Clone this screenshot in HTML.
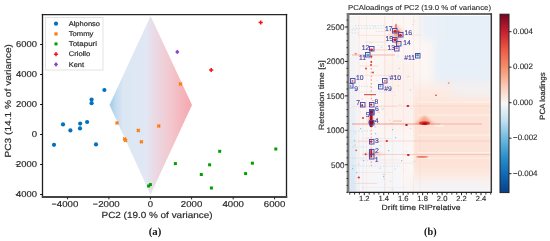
<!DOCTYPE html>
<html><head><meta charset="utf-8"><style>
html,body{margin:0;padding:0;background:#fff;}
svg{display:block;font-family:"Liberation Sans",Arial,sans-serif;text-rendering:geometricPrecision;}
</style></head><body>
<svg width="550" height="241" viewBox="0 0 550 241">
<rect width="550" height="241" fill="#fff"/>
<defs>
<linearGradient id="dg" gradientUnits="userSpaceOnUse" x1="109.5" y1="0" x2="192" y2="0">
<stop offset="0" stop-color="#9fcbea"/>
<stop offset="0.08" stop-color="#c4dcf0"/>
<stop offset="0.17" stop-color="#dce7f4"/>
<stop offset="0.45" stop-color="#e1e7f4"/>
<stop offset="0.52" stop-color="#e9dde8"/>
<stop offset="0.75" stop-color="#f3c6cd"/>
<stop offset="1" stop-color="#f6a6ad"/>
</linearGradient>
<linearGradient id="cb" x1="0" y1="1" x2="0" y2="0">
<stop offset="0" stop-color="#083f8a"/>
<stop offset="0.1" stop-color="#0f68b4"/>
<stop offset="0.2" stop-color="#2a90cc"/>
<stop offset="0.3" stop-color="#6db8e0"/>
<stop offset="0.4" stop-color="#bfe0f0"/>
<stop offset="0.5" stop-color="#f8f8f8"/>
<stop offset="0.6" stop-color="#fcc8b2"/>
<stop offset="0.7" stop-color="#f6906c"/>
<stop offset="0.8" stop-color="#ee5a44"/>
<stop offset="0.9" stop-color="#c82030"/>
<stop offset="1" stop-color="#780520"/>
</linearGradient>
</defs>
<polygon points="150.6,16 192,105 150.6,194.4 109.5,105" fill="url(#dg)"/>
<circle cx="104.4" cy="90" r="2.1" fill="#0072bd"/>
<circle cx="91.6" cy="99.6" r="2.1" fill="#0072bd"/>
<circle cx="91.6" cy="103.2" r="2.1" fill="#0072bd"/>
<circle cx="63" cy="124.4" r="2.1" fill="#0072bd"/>
<circle cx="70.4" cy="130.4" r="2.1" fill="#0072bd"/>
<circle cx="80.2" cy="123.6" r="2.1" fill="#0072bd"/>
<circle cx="80" cy="128.4" r="2.1" fill="#0072bd"/>
<circle cx="87.1" cy="122" r="2.1" fill="#0072bd"/>
<circle cx="54" cy="144.8" r="2.1" fill="#0072bd"/>
<circle cx="96" cy="144.4" r="2.1" fill="#0072bd"/>
<polygon points="115.00,122.10 116.10,121.00 117.00,121.90 117.90,121.00 119.00,122.10 118.10,123.00 119.00,123.90 117.90,125.00 117.00,124.10 116.10,125.00 115.00,123.90 115.90,123.00" fill="#fb7d10"/>
<polygon points="136.30,129.50 137.40,128.40 138.30,129.30 139.20,128.40 140.30,129.50 139.40,130.40 140.30,131.30 139.20,132.40 138.30,131.50 137.40,132.40 136.30,131.30 137.20,130.40" fill="#fb7d10"/>
<polygon points="156.80,125.10 157.90,124.00 158.80,124.90 159.70,124.00 160.80,125.10 159.90,126.00 160.80,126.90 159.70,128.00 158.80,127.10 157.90,128.00 156.80,126.90 157.70,126.00" fill="#fb7d10"/>
<polygon points="122.60,138.10 123.70,137.00 124.60,137.90 125.50,137.00 126.60,138.10 125.70,139.00 126.60,139.90 125.50,141.00 124.60,140.10 123.70,141.00 122.60,139.90 123.50,139.00" fill="#fb7d10"/>
<polygon points="123.60,139.50 124.70,138.40 125.60,139.30 126.50,138.40 127.60,139.50 126.70,140.40 127.60,141.30 126.50,142.40 125.60,141.50 124.70,142.40 123.60,141.30 124.50,140.40" fill="#fb7d10"/>
<polygon points="139.40,140.90 140.50,139.80 141.40,140.70 142.30,139.80 143.40,140.90 142.50,141.80 143.40,142.70 142.30,143.80 141.40,142.90 140.50,143.80 139.40,142.70 140.30,141.80" fill="#fb7d10"/>
<polygon points="178.50,83.10 179.60,82.00 180.50,82.90 181.40,82.00 182.50,83.10 181.60,84.00 182.50,84.90 181.40,86.00 180.50,85.10 179.60,86.00 178.50,84.90 179.40,84.00" fill="#fb7d10"/>
<rect x="173.9" y="162.1" width="3" height="3" fill="#00a000"/>
<rect x="199.8" y="173.0" width="3" height="3" fill="#00a000"/>
<rect x="208.1" y="163.3" width="3" height="3" fill="#00a000"/>
<rect x="147.1" y="184.5" width="3" height="3" fill="#00a000"/>
<rect x="148.9" y="183.1" width="3" height="3" fill="#00a000"/>
<rect x="218.2" y="149.8" width="3" height="3" fill="#00a000"/>
<rect x="274.3" y="147.5" width="3" height="3" fill="#00a000"/>
<rect x="209.9" y="186.5" width="3" height="3" fill="#00a000"/>
<rect x="250.9" y="161.7" width="3" height="3" fill="#00a000"/>
<rect x="244.1" y="172.1" width="3" height="3" fill="#00a000"/>
<polygon points="259.95,20.40 261.45,20.40 261.45,21.75 262.80,21.75 262.80,23.25 261.45,23.25 261.45,24.60 259.95,24.60 259.95,23.25 258.60,23.25 258.60,21.75 259.95,21.75" fill="#f51414"/>
<polygon points="210.45,67.90 211.95,67.90 211.95,69.25 213.30,69.25 213.30,70.75 211.95,70.75 211.95,72.10 210.45,72.10 210.45,70.75 209.10,70.75 209.10,69.25 210.45,69.25" fill="#f51414"/>
<path d="M177.3,49.6L179.4,51.9L177.3,54.199999999999996L175.20000000000002,51.9Z" fill="#8e44c4"/>
<rect x="45.5" y="17.5" width="57.5" height="52.5" fill="#fff" fill-opacity="0.85" stroke="#dcdcdc" stroke-width="0.8"/>
<circle cx="56" cy="23.7" r="2.1" fill="#0072bd"/>
<polygon points="54.00,33.00 55.10,31.90 56.00,32.80 56.90,31.90 58.00,33.00 57.10,33.90 58.00,34.80 56.90,35.90 56.00,35.00 55.10,35.90 54.00,34.80 54.90,33.90" fill="#fb7d10"/>
<rect x="54.5" y="42.4" width="3" height="3" fill="#00a000"/>
<polygon points="55.25,52.10 56.75,52.10 56.75,53.45 58.10,53.45 58.10,54.95 56.75,54.95 56.75,56.30 55.25,56.30 55.25,54.95 53.90,54.95 53.90,53.45 55.25,53.45" fill="#f51414"/>
<path d="M56,62.10000000000001L58.1,64.4L56,66.7L53.9,64.4Z" fill="#8e44c4"/>
<text x="68.7" y="25.8" font-size="6.8" fill="#2a2a2a" text-anchor="start" stroke="#2a2a2a" stroke-width="0.18" textLength="31.3" lengthAdjust="spacingAndGlyphs" >Alphonso</text>
<text x="68.7" y="36.2" font-size="6.8" fill="#2a2a2a" text-anchor="start" stroke="#2a2a2a" stroke-width="0.18" textLength="24.7" lengthAdjust="spacingAndGlyphs" >Tommy</text>
<text x="68.7" y="46.0" font-size="6.8" fill="#2a2a2a" text-anchor="start" stroke="#2a2a2a" stroke-width="0.18" textLength="28.3" lengthAdjust="spacingAndGlyphs" >Totapuri</text>
<text x="68.7" y="56.300000000000004" font-size="6.8" fill="#2a2a2a" text-anchor="start" stroke="#2a2a2a" stroke-width="0.18" textLength="21.6" lengthAdjust="spacingAndGlyphs" >Criollo</text>
<text x="68.7" y="66.5" font-size="6.8" fill="#2a2a2a" text-anchor="start" stroke="#2a2a2a" stroke-width="0.18" textLength="15.4" lengthAdjust="spacingAndGlyphs" >Kent</text>
<line x1="41.8" y1="14.6" x2="287.2" y2="14.6" stroke="#262626" stroke-width="1.4"/>
<line x1="42.5" y1="13.9" x2="42.5" y2="197.8" stroke="#1e1e1e" stroke-width="1.3"/>
<line x1="286.5" y1="13.9" x2="286.5" y2="197.8" stroke="#1e1e1e" stroke-width="1.3"/>
<line x1="41.8" y1="197" x2="287.2" y2="197" stroke="#444" stroke-width="1.9"/>
<line x1="40.1" y1="44.5" x2="42.5" y2="44.5" stroke="#111" stroke-width="1"/>
<text x="37.1" y="46.5" font-size="8.6" fill="#2a2a2a" text-anchor="end" stroke="#2a2a2a" stroke-width="0.18" textLength="21" lengthAdjust="spacingAndGlyphs" >6000</text>
<line x1="40.1" y1="74.5" x2="42.5" y2="74.5" stroke="#111" stroke-width="1"/>
<text x="37.1" y="76.5" font-size="8.6" fill="#2a2a2a" text-anchor="end" stroke="#2a2a2a" stroke-width="0.18" textLength="21" lengthAdjust="spacingAndGlyphs" >4000</text>
<line x1="40.1" y1="104.5" x2="42.5" y2="104.5" stroke="#111" stroke-width="1"/>
<text x="37.1" y="106.5" font-size="8.6" fill="#2a2a2a" text-anchor="end" stroke="#2a2a2a" stroke-width="0.18" textLength="21" lengthAdjust="spacingAndGlyphs" >2000</text>
<line x1="40.1" y1="134.5" x2="42.5" y2="134.5" stroke="#111" stroke-width="1"/>
<text x="37.1" y="136.5" font-size="8.6" fill="#2a2a2a" text-anchor="end" stroke="#2a2a2a" stroke-width="0.18" textLength="5.3" lengthAdjust="spacingAndGlyphs" >0</text>
<line x1="40.1" y1="164.5" x2="42.5" y2="164.5" stroke="#111" stroke-width="1"/>
<text x="37.1" y="166.5" font-size="8.6" fill="#2a2a2a" text-anchor="end" stroke="#2a2a2a" stroke-width="0.18" textLength="21" lengthAdjust="spacingAndGlyphs" >2000</text>
<rect x="15.6" y="164.0" width="2.4" height="0.9" fill="#444"/>
<line x1="40.1" y1="194.5" x2="42.5" y2="194.5" stroke="#111" stroke-width="1"/>
<text x="37.1" y="196.5" font-size="8.6" fill="#2a2a2a" text-anchor="end" stroke="#2a2a2a" stroke-width="0.18" textLength="21" lengthAdjust="spacingAndGlyphs" >4000</text>
<rect x="15.6" y="194.0" width="2.4" height="0.9" fill="#444"/>
<line x1="67.6" y1="197" x2="67.6" y2="199.4" stroke="#222" stroke-width="1"/>
<text x="51.39999999999999" y="207.0" font-size="8.6" fill="#2a2a2a" text-anchor="start" stroke="#2a2a2a" stroke-width="0.18" textLength="5.2" lengthAdjust="spacingAndGlyphs" >−</text>
<text x="67.6" y="207.0" font-size="8.6" fill="#2a2a2a" text-anchor="middle" stroke="#2a2a2a" stroke-width="0.18" textLength="21.5" lengthAdjust="spacingAndGlyphs" >4000</text>
<line x1="108.9" y1="197" x2="108.9" y2="199.4" stroke="#222" stroke-width="1"/>
<text x="92.7" y="207.0" font-size="8.6" fill="#2a2a2a" text-anchor="start" stroke="#2a2a2a" stroke-width="0.18" textLength="5.2" lengthAdjust="spacingAndGlyphs" >−</text>
<text x="108.9" y="207.0" font-size="8.6" fill="#2a2a2a" text-anchor="middle" stroke="#2a2a2a" stroke-width="0.18" textLength="21.5" lengthAdjust="spacingAndGlyphs" >2000</text>
<line x1="150.4" y1="197" x2="150.4" y2="199.4" stroke="#222" stroke-width="1"/>
<text x="150.4" y="207.0" font-size="8.6" fill="#2a2a2a" text-anchor="middle" stroke="#2a2a2a" stroke-width="0.18" textLength="5.3" lengthAdjust="spacingAndGlyphs" >0</text>
<line x1="191.6" y1="197" x2="191.6" y2="199.4" stroke="#222" stroke-width="1"/>
<text x="191.6" y="207.0" font-size="8.6" fill="#2a2a2a" text-anchor="middle" stroke="#2a2a2a" stroke-width="0.18" textLength="21.5" lengthAdjust="spacingAndGlyphs" >2000</text>
<line x1="233.2" y1="197" x2="233.2" y2="199.4" stroke="#222" stroke-width="1"/>
<text x="233.2" y="207.0" font-size="8.6" fill="#2a2a2a" text-anchor="middle" stroke="#2a2a2a" stroke-width="0.18" textLength="21.5" lengthAdjust="spacingAndGlyphs" >4000</text>
<line x1="274.6" y1="197" x2="274.6" y2="199.4" stroke="#222" stroke-width="1"/>
<text x="274.6" y="207.0" font-size="8.6" fill="#2a2a2a" text-anchor="middle" stroke="#2a2a2a" stroke-width="0.18" textLength="21.5" lengthAdjust="spacingAndGlyphs" >6000</text>
<text x="101.5" y="218" font-size="8.8" fill="#2a2a2a" text-anchor="start" stroke="#2a2a2a" stroke-width="0.18" textLength="111" lengthAdjust="spacingAndGlyphs" >PC2 (19.0 % of variance)</text>
<text x="0" y="0" font-size="8.8" fill="#2a2a2a" text-anchor="start" stroke="#2a2a2a" stroke-width="0.18" textLength="113.6" lengthAdjust="spacingAndGlyphs" transform="translate(11.4,157.6) rotate(-90)">PC3 (14.1 % of variance)</text>
<text x="155" y="234.5" font-size="10.8" fill="#111" text-anchor="middle" textLength="12.5" lengthAdjust="spacingAndGlyphs" font-family="Liberation Serif" font-weight="bold">(a)</text>
<clipPath id="hc"><rect x="348.5" y="14" width="143" height="178.3"/></clipPath>
<filter id="b4" x="-50%" y="-50%" width="200%" height="200%"><feGaussianBlur stdDeviation="4"/></filter>
<filter id="b2" x="-50%" y="-50%" width="200%" height="200%"><feGaussianBlur stdDeviation="1.5"/></filter>
<filter id="b1" x="-50%" y="-50%" width="200%" height="200%"><feGaussianBlur stdDeviation="0.6"/></filter>
<g clip-path="url(#hc)">
<rect x="348.5" y="14" width="143.0" height="178.3" fill="#fcf6f4"/>
<filter id="bv" x="-50%" y="-50%" width="200%" height="200%"><feGaussianBlur stdDeviation="0.7 5"/></filter>
<g filter="url(#b4)">
<rect x="434" y="0" width="70" height="88" fill="#e7f0f8"/>
<rect x="420" y="0" width="20" height="40" fill="#ebf1f8"/>
<rect x="384" y="60" width="30" height="70" fill="#fcf1ec"/>
<rect x="357" y="135" width="45" height="70" fill="#f6f6f9"/>
</g>
<g filter="url(#bv)">
<rect x="414.5" y="84" width="90" height="104" fill="#fdebe3"/>
<rect x="414.5" y="100" width="90" height="72" fill="#fde3d7"/>
</g>
<rect x="410" y="180" width="90" height="20" fill="#f5f3f5" filter="url(#b4)"/>
<rect x="452" y="82" width="50" height="14" fill="#eef1f6" opacity="0.8" filter="url(#b4)"/>
<linearGradient id="bs" x1="0" y1="0" x2="0" y2="1">
<stop offset="0" stop-color="#f8f4f4"/><stop offset="0.4" stop-color="#f1f2f6"/><stop offset="0.65" stop-color="#e5eef6"/>
<stop offset="1" stop-color="#d8e7f3"/></linearGradient>
<rect x="348.5" y="14" width="8" height="179" fill="url(#bs)" filter="url(#b2)"/>
<rect x="358.5" y="14" width="1" height="178" fill="#f4cfc4" opacity="0.35"/>
<rect x="362.5" y="120" width="1" height="72" fill="#d8e8f4" opacity="0.6"/>
<rect x="366" y="14" width="1" height="178" fill="#f6d6cc" opacity="0.3"/>
<rect x="384.3" y="14" width="1" height="178" fill="#f6c8b8" opacity="0.45"/>
<rect x="392" y="14" width="1" height="178" fill="#f8d8cc" opacity="0.3"/>
<rect x="403" y="14" width="1" height="178" fill="#f8dcd0" opacity="0.3"/>
<rect x="413" y="14" width="1" height="178" fill="#f5d5c8" opacity="0.3"/>
<rect x="419.5" y="14" width="1" height="178" fill="#f6d2c4" opacity="0.25"/>
<rect x="418" y="101.5" width="74" height="1" fill="#fff" opacity="0.5"/>
<rect x="418" y="114.5" width="74" height="1" fill="#fff" opacity="0.5"/>
<rect x="418" y="152.1" width="74" height="1" fill="#fff" opacity="0.5"/>
<rect x="418" y="157.7" width="74" height="1" fill="#fff" opacity="0.5"/>
<rect x="418" y="134.5" width="74" height="1" fill="#fff" opacity="0.5"/>
<line x1="371.3" y1="57" x2="371.3" y2="100" stroke="#ee7060" stroke-width="1.2" stroke-dasharray="1.5 2.2" opacity="0.7"/>
<line x1="371.3" y1="126" x2="371.3" y2="168" stroke="#f08070" stroke-width="1.1" stroke-dasharray="2 1.5" opacity="0.55"/>
<ellipse cx="374" cy="154" rx="14" ry="4" fill="url(#gl)" opacity="0.5"/>
<circle cx="371" cy="65" r="0.9" fill="#e03030"/>
<circle cx="366" cy="68.5" r="0.9" fill="#e03030"/>
<circle cx="373" cy="72.5" r="0.9" fill="#e03030"/>
<circle cx="371.3" cy="62" r="0.9" fill="#e03030"/>
<rect x="370.7" y="42.2" width="1" height="1" fill="#9ccfea" opacity="0.73"/>
<rect x="373.4" y="26.1" width="2" height="1" fill="#9ccfea" opacity="0.43"/>
<rect x="390.2" y="180.9" width="1" height="1" fill="#f4a494" opacity="0.63"/>
<rect x="412.5" y="24.1" width="1" height="1" fill="#8cc6e6" opacity="0.57"/>
<rect x="386.5" y="113.5" width="1" height="1" fill="#b5dbef" opacity="0.44"/>
<rect x="373.8" y="111.3" width="1" height="1" fill="#9ccfea" opacity="0.63"/>
<rect x="381.8" y="108.5" width="2" height="1" fill="#8cc6e6" opacity="0.59"/>
<rect x="389.0" y="28.7" width="1" height="1" fill="#b5dbef" opacity="0.70"/>
<rect x="409.7" y="89.4" width="1.5" height="1" fill="#9ccfea" opacity="0.71"/>
<rect x="367.3" y="137.3" width="1.5" height="1" fill="#9ccfea" opacity="0.42"/>
<rect x="391.4" y="188.8" width="2" height="1" fill="#f6b4a4" opacity="0.51"/>
<rect x="406.8" y="76.4" width="1" height="1" fill="#8cc6e6" opacity="0.47"/>
<rect x="397.3" y="85.2" width="2" height="1" fill="#f6b4a4" opacity="0.43"/>
<rect x="377.6" y="111.7" width="2" height="1" fill="#f6b4a4" opacity="0.79"/>
<rect x="376.8" y="80.3" width="1" height="1" fill="#b5dbef" opacity="0.68"/>
<rect x="379.2" y="167.6" width="2" height="1" fill="#f4a494" opacity="0.56"/>
<rect x="362.2" y="187.3" width="1.5" height="1" fill="#f6b4a4" opacity="0.46"/>
<rect x="388.4" y="33.8" width="1.5" height="1" fill="#f4a494" opacity="0.44"/>
<rect x="374.1" y="126.4" width="2" height="1" fill="#8cc6e6" opacity="0.64"/>
<rect x="357.9" y="163.7" width="1.5" height="1" fill="#f6b4a4" opacity="0.59"/>
<rect x="366.9" y="160.2" width="1" height="1" fill="#b5dbef" opacity="0.61"/>
<rect x="410.9" y="107.9" width="1" height="1" fill="#b5dbef" opacity="0.68"/>
<rect x="398.5" y="67.9" width="1.5" height="1" fill="#9ccfea" opacity="0.68"/>
<rect x="383.2" y="174.0" width="1.5" height="1" fill="#8cc6e6" opacity="0.71"/>
<rect x="390.7" y="122.7" width="2" height="1" fill="#b5dbef" opacity="0.72"/>
<rect x="397.4" y="55.5" width="1" height="1" fill="#8cc6e6" opacity="0.69"/>
<rect x="388.7" y="75.9" width="1.5" height="1" fill="#8cc6e6" opacity="0.78"/>
<rect x="371.6" y="100.0" width="2" height="1" fill="#f4a494" opacity="0.74"/>
<rect x="408.2" y="75.9" width="1" height="1" fill="#9ccfea" opacity="0.76"/>
<rect x="380.6" y="47.1" width="2" height="1" fill="#8cc6e6" opacity="0.43"/>
<rect x="379.6" y="145.3" width="1" height="1" fill="#9ccfea" opacity="0.69"/>
<rect x="413.6" y="20.8" width="1" height="1" fill="#f6b4a4" opacity="0.72"/>
<rect x="389.1" y="119.7" width="1.5" height="1" fill="#f6b4a4" opacity="0.66"/>
<rect x="360.0" y="111.4" width="1" height="1" fill="#9ccfea" opacity="0.41"/>
<rect x="383.7" y="178.5" width="1" height="1" fill="#f6b4a4" opacity="0.79"/>
<rect x="368.7" y="57.9" width="1" height="1" fill="#8cc6e6" opacity="0.62"/>
<rect x="353.9" y="144.7" width="2" height="1" fill="#f6b4a4" opacity="0.66"/>
<rect x="402.9" y="168.8" width="1" height="1" fill="#b5dbef" opacity="0.61"/>
<rect x="405.9" y="151.1" width="1" height="1" fill="#f4a494" opacity="0.40"/>
<rect x="361.0" y="98.4" width="2" height="1" fill="#f4a494" opacity="0.42"/>
<rect x="400.2" y="34.5" width="1" height="1" fill="#b5dbef" opacity="0.48"/>
<rect x="399.4" y="104.3" width="1" height="1" fill="#f4a494" opacity="0.41"/>
<rect x="378.4" y="122.6" width="1" height="1" fill="#f4a494" opacity="0.64"/>
<rect x="394.3" y="94.7" width="1" height="1" fill="#f6b4a4" opacity="0.60"/>
<rect x="394.7" y="168.5" width="1" height="1" fill="#8cc6e6" opacity="0.77"/>
<rect x="354.7" y="132.5" width="1" height="1" fill="#9ccfea" opacity="0.76"/>
<rect x="410.1" y="128.0" width="1" height="1" fill="#8cc6e6" opacity="0.46"/>
<rect x="411.9" y="54.2" width="1" height="1" fill="#f6b4a4" opacity="0.75"/>
<rect x="413.4" y="160.8" width="2" height="1" fill="#b5dbef" opacity="0.68"/>
<rect x="350.6" y="141.3" width="31.6" height="0.8" fill="#f8d0c4" opacity="0.45"/>
<rect x="361.5" y="138.1" width="30.5" height="0.8" fill="#f8d0c4" opacity="0.45"/>
<rect x="351.9" y="106.1" width="44.6" height="0.8" fill="#f6c4b6" opacity="0.45"/>
<rect x="353.1" y="183.2" width="23.0" height="0.8" fill="#f6c4b6" opacity="0.45"/>
<rect x="355.4" y="172.2" width="37.7" height="0.8" fill="#f8d0c4" opacity="0.45"/>
<rect x="370.3" y="162.7" width="43.4" height="0.8" fill="#f8d0c4" opacity="0.45"/>
<rect x="377.6" y="45.1" width="32.1" height="0.8" fill="#d4e8f4" opacity="0.45"/>
<rect x="358.4" y="74.9" width="39.0" height="0.8" fill="#f6c4b6" opacity="0.45"/>
<rect x="352.2" y="91.5" width="43.2" height="0.8" fill="#d4e8f4" opacity="0.45"/>
<rect x="357.8" y="34.9" width="33.2" height="0.8" fill="#f6c4b6" opacity="0.45"/>
<rect x="375.9" y="31.2" width="28.6" height="0.8" fill="#f8d0c4" opacity="0.45"/>
<rect x="362.5" y="187.0" width="42.5" height="0.8" fill="#d4e8f4" opacity="0.45"/>
<rect x="365.8" y="41.7" width="22.2" height="0.8" fill="#f6c4b6" opacity="0.45"/>
<rect x="357.9" y="182.8" width="20.4" height="0.8" fill="#f8d0c4" opacity="0.45"/>
<rect x="352" y="123.55" width="88" height="0.9" fill="#e86a5a" opacity="0.7"/>
<rect x="440" y="123.55" width="42" height="0.9" fill="#f09080" opacity="0.6"/>
<rect x="374" y="105.5" width="117" height="1" fill="#f5b4a4" opacity="0.3"/>
<rect x="358" y="140.5" width="133" height="1" fill="#f4a898" opacity="0.35"/>
<rect x="362" y="154.0" width="129" height="1" fill="#f3a494" opacity="0.45"/>
<rect x="352" y="54.45" width="43" height="1.1" fill="#f3a090" opacity="0.7"/>
<rect x="374" y="49.4" width="18" height="1" fill="#f5b0a0" opacity="0.5"/>
<rect x="393" y="120.6" width="9" height="1" fill="#f5b090" opacity="0.8"/>
<rect x="364" y="94.0" width="12" height="1.2" fill="#d84848" opacity="0.9"/>
<rect x="360" y="65.5" width="18" height="1" fill="#f6c0b0" opacity="0.4"/>
<rect x="360" y="159.5" width="40" height="1" fill="#f6c8bc" opacity="0.35"/>
<rect x="404" y="34.5" width="16" height="1" fill="#f8c8b8" opacity="0.4"/>
<radialGradient id="gl"><stop offset="0" stop-color="#f07850" stop-opacity="0.85"/><stop offset="0.6" stop-color="#f8a888" stop-opacity="0.35"/><stop offset="1" stop-color="#fbc8b0" stop-opacity="0"/></radialGradient>
<ellipse cx="397" cy="34" rx="8" ry="10" fill="url(#gl)"/>
<ellipse cx="396" cy="26.5" rx="1.2" ry="3" fill="#f06048" opacity="0.7" filter="url(#b1)"/>
<ellipse cx="397.5" cy="43.5" rx="2.5" ry="1.2" fill="#f7a070" opacity="0.6" filter="url(#b1)"/>
<polygon points="414,125 424.5,115.5 435,125" fill="#f59070" opacity="0.75" filter="url(#b2)"/>
<ellipse cx="424.5" cy="123.2" rx="5.5" ry="2" fill="#e03030" filter="url(#b1)"/>
<rect x="414" y="125.2" width="30" height="1.2" fill="#fff" opacity="0.6"/>
<ellipse cx="371" cy="120" rx="5" ry="7" fill="url(#gl)"/>
<ellipse cx="371" cy="154" rx="4" ry="6" fill="url(#gl)" opacity="0.7"/>
<g filter="url(#b1)">
<rect x="369.8" y="112" width="2.8" height="15" fill="#b01020"/>
<rect x="370.3" y="149.5" width="1.8" height="8" fill="#c01820"/>
<ellipse cx="395" cy="31.3" rx="1.6" ry="1.4" fill="#e01818"/>
<ellipse cx="400.4" cy="35.3" rx="1.5" ry="1.4" fill="#e01818"/>
<ellipse cx="398.5" cy="31.6" rx="1.0" ry="1.0" fill="#e83020"/>
<ellipse cx="395" cy="39.7" rx="1.8" ry="1.2" fill="#d81818"/>
<ellipse cx="396.6" cy="48.3" rx="1.2" ry="1.0" fill="#f05030"/>
<ellipse cx="371.5" cy="49.8" rx="1.5" ry="1.4" fill="#d81c1c"/>
<ellipse cx="371.4" cy="56.4" rx="1.0" ry="1.0" fill="#e03030"/>
<ellipse cx="355.8" cy="53.8" rx="1.2" ry="0.8" fill="#f07060"/>
<ellipse cx="352.5" cy="80.9" rx="0.9" ry="0.9" fill="#e85040"/>
<ellipse cx="384.9" cy="80.8" rx="1.0" ry="0.9" fill="#f06050"/>
<ellipse cx="362.2" cy="105.3" rx="0.8" ry="1.4" fill="#c01818"/>
<ellipse cx="371.2" cy="104.7" rx="1.1" ry="1.1" fill="#c81818"/>
<ellipse cx="371.2" cy="111.8" rx="2.0" ry="2.0" fill="#a81020"/>
<ellipse cx="371.2" cy="122.5" rx="2.6" ry="2.4" fill="#900818"/>
<ellipse cx="371.2" cy="141.6" rx="1.2" ry="1.2" fill="#d81818"/>
<ellipse cx="386.8" cy="141.1" rx="1.1" ry="1.0" fill="#e02020"/>
<ellipse cx="365.6" cy="154.2" rx="1.0" ry="1.0" fill="#e03030"/>
<ellipse cx="356.2" cy="150.4" rx="1.0" ry="0.8" fill="#f06050"/>
<ellipse cx="407.9" cy="105.9" rx="1.4" ry="1.0" fill="#c01a28"/>
<ellipse cx="424.8" cy="123.6" rx="2.6" ry="1.1" fill="#a8081a"/>
<ellipse cx="406.5" cy="125" rx="1.3" ry="0.9" fill="#b01020"/>
<ellipse cx="408.3" cy="155" rx="1.4" ry="1.0" fill="#c41c2a"/>
<ellipse cx="422.2" cy="156.9" rx="6.0" ry="0.8" fill="#f07060"/>
<ellipse cx="417.6" cy="55.3" rx="1.3" ry="1.2" fill="#2a9ab8"/>
<ellipse cx="367.8" cy="55" rx="1.5" ry="1.2" fill="#30b0d8"/>
<ellipse cx="350.5" cy="86" rx="1.1" ry="1.0" fill="#40b0d8"/>
<ellipse cx="380.4" cy="86.3" rx="1.0" ry="1.0" fill="#40b0d8"/>
<ellipse cx="358.8" cy="177.5" rx="1.2" ry="1.0" fill="#e03030"/>
<ellipse cx="436" cy="95.2" rx="1.0" ry="0.8" fill="#e85030"/>
<ellipse cx="448.7" cy="83" rx="0.9" ry="0.7" fill="#f08060"/>
<ellipse cx="363" cy="118" rx="1.0" ry="0.9" fill="#e03030"/>
</g>
<line x1="355" y1="25.7" x2="385" y2="25.7" stroke="#9fd3ec" stroke-width="0.8" stroke-dasharray="1.2 1.6" opacity="0.75"/>
<line x1="353" y1="28.3" x2="384" y2="28.3" stroke="#9fd3ec" stroke-width="0.8" stroke-dasharray="1.2 1.6" opacity="0.75"/>
<line x1="353" y1="86.3" x2="372" y2="86.3" stroke="#9fd3ec" stroke-width="0.8" stroke-dasharray="1.2 1.6" opacity="0.75"/>
<line x1="352" y1="166" x2="400" y2="166" stroke="#9fd3ec" stroke-width="0.8" stroke-dasharray="1.2 1.6" opacity="0.75"/>
<line x1="349" y1="158" x2="380" y2="158" stroke="#9fd3ec" stroke-width="0.8" stroke-dasharray="1.2 1.6" opacity="0.75"/>
<line x1="349" y1="29.8" x2="358" y2="29.8" stroke="#9fd3ec" stroke-width="0.8" stroke-dasharray="1.2 1.6" opacity="0.75"/>
<line x1="349" y1="33" x2="360" y2="33" stroke="#9fd3ec" stroke-width="0.8" stroke-dasharray="1.2 1.6" opacity="0.75"/>
<line x1="350" y1="131" x2="372" y2="131" stroke="#9fd3ec" stroke-width="0.8" stroke-dasharray="1.2 1.6" opacity="0.75"/>
<line x1="352" y1="147" x2="368" y2="147" stroke="#9fd3ec" stroke-width="0.8" stroke-dasharray="1.2 1.6" opacity="0.75"/>
<rect x="352" y="168" width="1.2" height="1.2" fill="#6cbde4" opacity="0.8"/>
<rect x="356" y="172" width="1.2" height="1.2" fill="#6cbde4" opacity="0.8"/>
<rect x="363" y="160" width="1.2" height="1.2" fill="#6cbde4" opacity="0.8"/>
<rect x="375" y="133" width="1.2" height="1.2" fill="#6cbde4" opacity="0.8"/>
<rect x="388" y="150" width="1.2" height="1.2" fill="#6cbde4" opacity="0.8"/>
<rect x="395" y="137" width="1.2" height="1.2" fill="#6cbde4" opacity="0.8"/>
<rect x="401" y="160" width="1.2" height="1.2" fill="#6cbde4" opacity="0.8"/>
<rect x="383" y="176" width="1.2" height="1.2" fill="#6cbde4" opacity="0.8"/>
<rect x="392" y="129" width="1.2" height="1.2" fill="#6cbde4" opacity="0.8"/>
<rect x="360" y="128" width="1.2" height="1.2" fill="#6cbde4" opacity="0.8"/>
<rect x="354" y="140" width="1.2" height="1.2" fill="#6cbde4" opacity="0.8"/>
</g>
<rect x="392.5" y="28.5" width="4.5" height="4.5" fill="none" stroke="#4a4ab0" stroke-width="0.95"/>
<rect x="398.5" y="32.5" width="4.5" height="4.5" fill="none" stroke="#4a4ab0" stroke-width="0.95"/>
<rect x="392.5" y="37.5" width="4.5" height="4.5" fill="none" stroke="#4a4ab0" stroke-width="0.95"/>
<rect x="396.5" y="41.5" width="4.5" height="4.5" fill="none" stroke="#4a4ab0" stroke-width="0.95"/>
<rect x="394.5" y="46.5" width="4.5" height="4.5" fill="none" stroke="#4a4ab0" stroke-width="0.95"/>
<rect x="369.5" y="46.5" width="4.5" height="4.5" fill="none" stroke="#4a4ab0" stroke-width="0.95"/>
<rect x="365.5" y="52.5" width="4.5" height="4.5" fill="none" stroke="#4a4ab0" stroke-width="0.95"/>
<rect x="415.5" y="53.5" width="4.5" height="4.5" fill="none" stroke="#4a4ab0" stroke-width="0.95"/>
<rect x="350.5" y="78.5" width="4.5" height="4.5" fill="none" stroke="#4a4ab0" stroke-width="0.95"/>
<rect x="348.5" y="83.5" width="4.5" height="4.5" fill="none" stroke="#4a4ab0" stroke-width="0.95"/>
<rect x="382.5" y="78.5" width="4.5" height="4.5" fill="none" stroke="#4a4ab0" stroke-width="0.95"/>
<rect x="378.5" y="84.5" width="4.5" height="4.5" fill="none" stroke="#4a4ab0" stroke-width="0.95"/>
<rect x="360.5" y="102.5" width="4.5" height="4.5" fill="none" stroke="#4a4ab0" stroke-width="0.95"/>
<rect x="369.5" y="102.5" width="4.5" height="4.5" fill="none" stroke="#4a4ab0" stroke-width="0.95"/>
<rect x="369.5" y="109.5" width="4.5" height="4.5" fill="none" stroke="#4a4ab0" stroke-width="0.95"/>
<rect x="369.5" y="110.5" width="4.5" height="4.5" fill="none" stroke="#4a4ab0" stroke-width="0.95"/>
<rect x="369.5" y="120.5" width="4.5" height="4.5" fill="none" stroke="#4a4ab0" stroke-width="0.95"/>
<rect x="369.5" y="139.5" width="4.5" height="4.5" fill="none" stroke="#4a4ab0" stroke-width="0.95"/>
<rect x="369.5" y="149.5" width="4.5" height="4.5" fill="none" stroke="#4a4ab0" stroke-width="0.95"/>
<rect x="369.5" y="154.5" width="4.5" height="4.5" fill="none" stroke="#4a4ab0" stroke-width="0.95"/>
<text x="384.98" y="30.8" font-size="6.8" fill="#3a3aa0" stroke="#3a3aa0" stroke-width="0.12">17</text>
<text x="404.38" y="34.900000000000006" font-size="6.8" fill="#3a3aa0" stroke="#3a3aa0" stroke-width="0.12">16</text>
<text x="385.58" y="41.1" font-size="6.8" fill="#3a3aa0" stroke="#3a3aa0" stroke-width="0.12">15</text>
<text x="403.18" y="45.0" font-size="6.8" fill="#3a3aa0" stroke="#3a3aa0" stroke-width="0.12">14</text>
<text x="387.38" y="49.800000000000004" font-size="6.8" fill="#3a3aa0" stroke="#3a3aa0" stroke-width="0.12">13</text>
<text x="361.78" y="49.7" font-size="6.8" fill="#3a3aa0" stroke="#3a3aa0" stroke-width="0.12">12</text>
<text x="358.88" y="60.2" font-size="6.8" fill="#3a3aa0" stroke="#3a3aa0" stroke-width="0.12">11</text>
<text x="404.27" y="60.300000000000004" font-size="6.8" fill="#3a3aa0" stroke="#3a3aa0" stroke-width="0.12">#11</text>
<text x="355.98" y="80.0" font-size="6.8" fill="#3a3aa0" stroke="#3a3aa0" stroke-width="0.12">10</text>
<text x="354.19" y="91.4" font-size="6.8" fill="#3a3aa0" stroke="#3a3aa0" stroke-width="0.12">9</text>
<text x="389.77" y="80.4" font-size="6.8" fill="#3a3aa0" stroke="#3a3aa0" stroke-width="0.12">#10</text>
<text x="384.27" y="91.4" font-size="6.8" fill="#3a3aa0" stroke="#3a3aa0" stroke-width="0.12">#9</text>
<text x="356.25" y="104.7" font-size="6.8" fill="#3a3aa0" stroke="#3a3aa0" stroke-width="0.12">7</text>
<text x="374.41" y="103.8" font-size="6.8" fill="#3a3aa0" stroke="#3a3aa0" stroke-width="0.12">8</text>
<text x="374.96" y="111.0" font-size="6.8" fill="#3a3aa0" stroke="#3a3aa0" stroke-width="0.12">6</text>
<text x="365.63" y="117.10000000000001" font-size="6.8" fill="#3a3aa0" stroke="#3a3aa0" stroke-width="0.12">5</text>
<text x="374.85" y="122.5" font-size="6.8" fill="#3a3aa0" stroke="#3a3aa0" stroke-width="0.12">4</text>
<text x="375.04" y="142.89999999999998" font-size="6.8" fill="#3a3aa0" stroke="#3a3aa0" stroke-width="0.12">3</text>
<text x="374.96" y="153.39999999999998" font-size="6.8" fill="#3a3aa0" stroke="#3a3aa0" stroke-width="0.12">2</text>
<text x="374.78" y="162.1" font-size="6.8" fill="#3a3aa0" stroke="#3a3aa0" stroke-width="0.12">1</text>
<rect x="349.4" y="14.8" width="141" height="1.2" fill="#fff"/>
<rect x="349.4" y="14.8" width="0.7" height="177" fill="#fff" opacity="0.6"/>
<rect x="489.6" y="14.8" width="0.9" height="177" fill="#fffaf6" opacity="0.8"/>
<line x1="346.8" y1="14" x2="492" y2="14" stroke="#3c3c3c" stroke-width="1.5"/>
<line x1="346.8" y1="192.3" x2="492" y2="192.3" stroke="#222" stroke-width="1.3"/>
<line x1="491.3" y1="13.3" x2="491.3" y2="193" stroke="#3a3a3a" stroke-width="1.5"/>
<rect x="346.7" y="13.3" width="2.7" height="179.6" fill="#7a7a7a"/>
<text x="348" y="10" font-size="7.2" fill="#2a2a2a" text-anchor="start" stroke="#2a2a2a" stroke-width="0.1" textLength="143" lengthAdjust="spacingAndGlyphs" >PCAloadings of PC2 (19.0 % of variance)</text>
<line x1="345" y1="27.0" x2="348" y2="27.0" stroke="#222" stroke-width="1"/>
<text x="344.5" y="29.9" font-size="8.1" fill="#2a2a2a" text-anchor="end" stroke="#2a2a2a" stroke-width="0.12" textLength="17.9" lengthAdjust="spacingAndGlyphs" >2500</text>
<line x1="345" y1="61.43" x2="348" y2="61.43" stroke="#222" stroke-width="1"/>
<text x="344.5" y="64.33" font-size="8.1" fill="#2a2a2a" text-anchor="end" stroke="#2a2a2a" stroke-width="0.12" textLength="17.9" lengthAdjust="spacingAndGlyphs" >2000</text>
<line x1="345" y1="95.86" x2="348" y2="95.86" stroke="#222" stroke-width="1"/>
<text x="344.5" y="98.76" font-size="8.1" fill="#2a2a2a" text-anchor="end" stroke="#2a2a2a" stroke-width="0.12" textLength="17.9" lengthAdjust="spacingAndGlyphs" >1500</text>
<line x1="345" y1="130.29" x2="348" y2="130.29" stroke="#222" stroke-width="1"/>
<text x="344.5" y="133.19" font-size="8.1" fill="#2a2a2a" text-anchor="end" stroke="#2a2a2a" stroke-width="0.12" textLength="17.9" lengthAdjust="spacingAndGlyphs" >1000</text>
<line x1="345" y1="164.72" x2="348" y2="164.72" stroke="#222" stroke-width="1"/>
<text x="344.5" y="167.62" font-size="8.1" fill="#2a2a2a" text-anchor="end" stroke="#2a2a2a" stroke-width="0.12" textLength="13.4" lengthAdjust="spacingAndGlyphs" >500</text>
<line x1="346.5" y1="20.114" x2="348" y2="20.114" stroke="#222" stroke-width="0.9"/>
<line x1="346.5" y1="33.886" x2="348" y2="33.886" stroke="#222" stroke-width="0.9"/>
<line x1="346.5" y1="40.772" x2="348" y2="40.772" stroke="#222" stroke-width="0.9"/>
<line x1="346.5" y1="47.658" x2="348" y2="47.658" stroke="#222" stroke-width="0.9"/>
<line x1="346.5" y1="54.544" x2="348" y2="54.544" stroke="#222" stroke-width="0.9"/>
<line x1="346.5" y1="68.316" x2="348" y2="68.316" stroke="#222" stroke-width="0.9"/>
<line x1="346.5" y1="75.202" x2="348" y2="75.202" stroke="#222" stroke-width="0.9"/>
<line x1="346.5" y1="82.088" x2="348" y2="82.088" stroke="#222" stroke-width="0.9"/>
<line x1="346.5" y1="88.974" x2="348" y2="88.974" stroke="#222" stroke-width="0.9"/>
<line x1="346.5" y1="102.746" x2="348" y2="102.746" stroke="#222" stroke-width="0.9"/>
<line x1="346.5" y1="109.632" x2="348" y2="109.632" stroke="#222" stroke-width="0.9"/>
<line x1="346.5" y1="116.518" x2="348" y2="116.518" stroke="#222" stroke-width="0.9"/>
<line x1="346.5" y1="123.404" x2="348" y2="123.404" stroke="#222" stroke-width="0.9"/>
<line x1="346.5" y1="137.176" x2="348" y2="137.176" stroke="#222" stroke-width="0.9"/>
<line x1="346.5" y1="144.062" x2="348" y2="144.062" stroke="#222" stroke-width="0.9"/>
<line x1="346.5" y1="150.948" x2="348" y2="150.948" stroke="#222" stroke-width="0.9"/>
<line x1="346.5" y1="157.834" x2="348" y2="157.834" stroke="#222" stroke-width="0.9"/>
<line x1="346.5" y1="171.606" x2="348" y2="171.606" stroke="#222" stroke-width="0.9"/>
<line x1="346.5" y1="178.492" x2="348" y2="178.492" stroke="#222" stroke-width="0.9"/>
<line x1="346.5" y1="185.37800000000001" x2="348" y2="185.37800000000001" stroke="#222" stroke-width="0.9"/>
<line x1="346.5" y1="192.264" x2="348" y2="192.264" stroke="#222" stroke-width="0.9"/>
<line x1="364.3" y1="192.3" x2="364.3" y2="195.2" stroke="#222" stroke-width="1"/>
<text x="364.3" y="201.1" font-size="7.4" fill="#2a2a2a" text-anchor="middle" stroke="#2a2a2a" stroke-width="0.12" textLength="10.6" lengthAdjust="spacingAndGlyphs" >1.2</text>
<line x1="383.75" y1="192.3" x2="383.75" y2="195.2" stroke="#222" stroke-width="1"/>
<text x="383.75" y="201.1" font-size="7.4" fill="#2a2a2a" text-anchor="middle" stroke="#2a2a2a" stroke-width="0.12" textLength="10.6" lengthAdjust="spacingAndGlyphs" >1.4</text>
<line x1="403.2" y1="192.3" x2="403.2" y2="195.2" stroke="#222" stroke-width="1"/>
<text x="403.2" y="201.1" font-size="7.4" fill="#2a2a2a" text-anchor="middle" stroke="#2a2a2a" stroke-width="0.12" textLength="10.6" lengthAdjust="spacingAndGlyphs" >1.6</text>
<line x1="422.65" y1="192.3" x2="422.65" y2="195.2" stroke="#222" stroke-width="1"/>
<text x="422.65" y="201.1" font-size="7.4" fill="#2a2a2a" text-anchor="middle" stroke="#2a2a2a" stroke-width="0.12" textLength="10.6" lengthAdjust="spacingAndGlyphs" >1.8</text>
<line x1="442.1" y1="192.3" x2="442.1" y2="195.2" stroke="#222" stroke-width="1"/>
<text x="442.1" y="201.1" font-size="7.4" fill="#2a2a2a" text-anchor="middle" stroke="#2a2a2a" stroke-width="0.12" textLength="10.6" lengthAdjust="spacingAndGlyphs" >2.0</text>
<line x1="461.55" y1="192.3" x2="461.55" y2="195.2" stroke="#222" stroke-width="1"/>
<text x="461.55" y="201.1" font-size="7.4" fill="#2a2a2a" text-anchor="middle" stroke="#2a2a2a" stroke-width="0.12" textLength="10.6" lengthAdjust="spacingAndGlyphs" >2.2</text>
<line x1="481.0" y1="192.3" x2="481.0" y2="195.2" stroke="#222" stroke-width="1"/>
<text x="481.0" y="201.1" font-size="7.4" fill="#2a2a2a" text-anchor="middle" stroke="#2a2a2a" stroke-width="0.12" textLength="10.6" lengthAdjust="spacingAndGlyphs" >2.4</text>
<line x1="349.71250000000003" y1="192.3" x2="349.71250000000003" y2="194.6" stroke="#222" stroke-width="0.9"/>
<line x1="354.575" y1="192.3" x2="354.575" y2="194.6" stroke="#222" stroke-width="0.9"/>
<line x1="359.4375" y1="192.3" x2="359.4375" y2="194.6" stroke="#222" stroke-width="0.9"/>
<line x1="369.1625" y1="192.3" x2="369.1625" y2="194.6" stroke="#222" stroke-width="0.9"/>
<line x1="374.02500000000003" y1="192.3" x2="374.02500000000003" y2="194.6" stroke="#222" stroke-width="0.9"/>
<line x1="378.8875" y1="192.3" x2="378.8875" y2="194.6" stroke="#222" stroke-width="0.9"/>
<line x1="388.6125" y1="192.3" x2="388.6125" y2="194.6" stroke="#222" stroke-width="0.9"/>
<line x1="393.475" y1="192.3" x2="393.475" y2="194.6" stroke="#222" stroke-width="0.9"/>
<line x1="398.33750000000003" y1="192.3" x2="398.33750000000003" y2="194.6" stroke="#222" stroke-width="0.9"/>
<line x1="408.0625" y1="192.3" x2="408.0625" y2="194.6" stroke="#222" stroke-width="0.9"/>
<line x1="412.925" y1="192.3" x2="412.925" y2="194.6" stroke="#222" stroke-width="0.9"/>
<line x1="417.7875" y1="192.3" x2="417.7875" y2="194.6" stroke="#222" stroke-width="0.9"/>
<line x1="427.5125" y1="192.3" x2="427.5125" y2="194.6" stroke="#222" stroke-width="0.9"/>
<line x1="432.375" y1="192.3" x2="432.375" y2="194.6" stroke="#222" stroke-width="0.9"/>
<line x1="437.2375" y1="192.3" x2="437.2375" y2="194.6" stroke="#222" stroke-width="0.9"/>
<line x1="446.9625" y1="192.3" x2="446.9625" y2="194.6" stroke="#222" stroke-width="0.9"/>
<line x1="451.825" y1="192.3" x2="451.825" y2="194.6" stroke="#222" stroke-width="0.9"/>
<line x1="456.6875" y1="192.3" x2="456.6875" y2="194.6" stroke="#222" stroke-width="0.9"/>
<line x1="466.4125" y1="192.3" x2="466.4125" y2="194.6" stroke="#222" stroke-width="0.9"/>
<line x1="471.275" y1="192.3" x2="471.275" y2="194.6" stroke="#222" stroke-width="0.9"/>
<line x1="476.1375" y1="192.3" x2="476.1375" y2="194.6" stroke="#222" stroke-width="0.9"/>
<line x1="485.8625" y1="192.3" x2="485.8625" y2="194.6" stroke="#222" stroke-width="0.9"/>
<line x1="490.725" y1="192.3" x2="490.725" y2="194.6" stroke="#222" stroke-width="0.9"/>
<text x="381.6" y="210.1" font-size="7.6" fill="#2a2a2a" text-anchor="start" stroke="#2a2a2a" stroke-width="0.18" textLength="79" lengthAdjust="spacingAndGlyphs" >Drift time RIPrelative</text>
<text x="0" y="0" font-size="7.6" fill="#2a2a2a" text-anchor="start" stroke="#2a2a2a" stroke-width="0.15" textLength="70" lengthAdjust="spacingAndGlyphs" transform="translate(324,130.3) rotate(-90)">Retention time [s]</text>
<text x="430.3" y="234.5" font-size="10.8" fill="#111" text-anchor="middle" textLength="12.5" lengthAdjust="spacingAndGlyphs" font-family="Liberation Serif" font-weight="bold">(b)</text>
<rect x="500" y="14.2" width="9" height="178.4" fill="url(#cb)" stroke="#222" stroke-width="1"/>
<line x1="509" y1="31.7" x2="511.5" y2="31.7" stroke="#222" stroke-width="1"/>
<text x="513" y="33.9" font-size="7.9" fill="#2a2a2a" text-anchor="start" stroke="#2a2a2a" stroke-width="0.12" textLength="20" lengthAdjust="spacingAndGlyphs" >0.004</text>
<line x1="509" y1="67.2" x2="511.5" y2="67.2" stroke="#222" stroke-width="1"/>
<text x="513" y="69.4" font-size="7.9" fill="#2a2a2a" text-anchor="start" stroke="#2a2a2a" stroke-width="0.12" textLength="20" lengthAdjust="spacingAndGlyphs" >0.002</text>
<line x1="509" y1="102.7" x2="511.5" y2="102.7" stroke="#222" stroke-width="1"/>
<text x="513" y="104.9" font-size="7.9" fill="#2a2a2a" text-anchor="start" stroke="#2a2a2a" stroke-width="0.12" textLength="20" lengthAdjust="spacingAndGlyphs" >0.000</text>
<line x1="509" y1="138.2" x2="511.5" y2="138.2" stroke="#222" stroke-width="1"/>
<text x="513" y="140.39999999999998" font-size="7.9" fill="#2a2a2a" text-anchor="start" stroke="#2a2a2a" stroke-width="0.12" textLength="24.5" lengthAdjust="spacingAndGlyphs" >−0.002</text>
<line x1="509" y1="173.7" x2="511.5" y2="173.7" stroke="#222" stroke-width="1"/>
<text x="513" y="175.89999999999998" font-size="7.9" fill="#2a2a2a" text-anchor="start" stroke="#2a2a2a" stroke-width="0.12" textLength="24.5" lengthAdjust="spacingAndGlyphs" >−0.004</text>
<text x="0" y="0" font-size="7.6" fill="#2a2a2a" text-anchor="start" stroke="#2a2a2a" stroke-width="0.2" textLength="47.5" lengthAdjust="spacingAndGlyphs" transform="translate(545.3,119.9) rotate(-90)">PCA loadings</text>
</svg>
</body></html>
